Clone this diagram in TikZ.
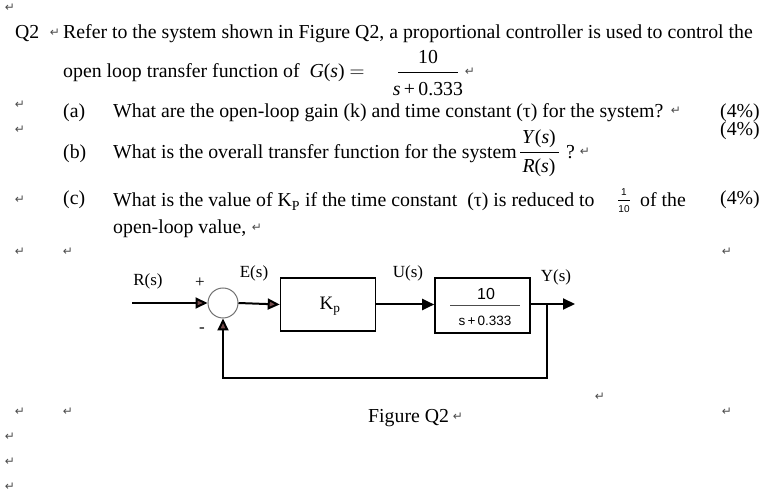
\documentclass[tikz,border=0pt]{standalone}
\usepackage{fontspec}
\setmainfont{Liberation Serif}
\newfontfamily\symf{DejaVu Sans}
\newfontfamily\sansf{Liberation Sans}
\usetikzlibrary{arrows.meta}
\begin{document}
\begin{tikzpicture}[x=1pt,y=-1pt,
  txt/.style={anchor=base west,inner sep=0pt,font=\fontsize{19.8}{23}\selectfont},
  ret/.style={inner sep=0pt,font=\symf\fontsize{12}{14}\selectfont,text=black!70},
  blk/.style={draw,line width=1.6pt,inner sep=0pt},
  sig/.style={line width=2pt,-{Triangle[length=12pt,width=11pt]}},
  lab/.style={inner sep=0pt,font=\fontsize{17}{19}\selectfont}]
\useasboundingbox (0,0) rectangle (772,494);
% text
\node[txt] (q2) at (15,39) {Q2};
\node[ret] (r0) at (55,33) {↵};
\node[ret] (r00) at (10,8) {↵};
\node[txt] (l1) at (63,39) {Refer to the system shown in Figure Q2, a proportional controller is used to control the};
\node[txt] (l2) at (63,78) {open loop transfer function of \ \textit{G}(\textit{s}) $=$};
\node[txt,anchor=base] (n1) at (428,64) {10};
\draw[line width=0.6pt] (398,72) -- (458,72);
\node[txt,anchor=base] (d1) at (428,96) {\textit{s}\,+\,0.333};
\node[ret] (r1) at (470,72) {↵};
\node[ret] (r2) at (20,105) {↵};
\node[ret] (r3) at (20,130) {↵};
\node[txt] (a) at (63,118) {(a)};
\node[txt] (at) at (113,118) {What are the open-loop gain (k) and time constant (τ) for the system?};
\node[ret] (r4) at (676,111) {↵};
\node[txt] (pa) at (720,118) {(4\%)};
\node[txt] (pb) at (720,136) {(4\%)};
\node[txt] (b) at (63,159) {(b)};
\node[txt] (bt) at (113,159) {What is the overall transfer function for the system};
\node[txt,anchor=base] (n2) at (539,144) {\textit{Y}(\textit{s})};
\draw[line width=0.6pt] (520,152) -- (559,152);
\node[txt,anchor=base] (d2) at (539,173) {\textit{R}(\textit{s})};
\node[txt] (q) at (566,159) {?};
\node[ret] (r5) at (585,152) {↵};
\node[ret] (r6) at (20,200) {↵};
\node[txt] (c) at (63,205) {(c)};
\node[txt] (ct) at (113,207) {What is the value of K\textsubscript{P} if the time constant \ (τ) is reduced to};
\node[inner sep=0pt,font=\sansf\fontsize{10}{11}\selectfont] (f1) at (624,192) {1};
\draw[line width=0.5pt] (618,200) -- (630,200);
\node[inner sep=0pt,font=\sansf\fontsize{10}{11}\selectfont] (f2) at (624,209) {10};
\node[txt] (ot) at (640,207) {of the};
\node[txt] (pc) at (720,205) {(4\%)};
\node[txt] (ov) at (113,234) {open-loop value,};
\node[ret] (r7) at (257,228) {↵};
\node[ret] (r8) at (20,252) {↵};
\node[ret] (r9) at (68,252) {↵};
\node[ret] (r10) at (727,252) {↵};
% diagram
\coordinate (in) at (132,303);
\node[draw=black!55,line width=1pt,circle,minimum size=30pt,inner sep=0pt] (sum) at (223,303) {};
\node[blk,minimum width=95pt,minimum height=53pt] (kp) at (328,304.5) {};
\node[lab,font=\fontsize{19}{21}\selectfont] at (330,306) {K\textsubscript{p}};
\node[blk,minimum width=95pt,minimum height=55pt] (g) at (482.5,305.5) {};
\node[inner sep=0pt,font=\sansf\fontsize{16}{18}\selectfont] (gn) at (486,294) {10};
\draw[line width=1pt,black!70] (450,306) -- (520,306);
\node[inner sep=0pt,font=\sansf\fontsize{13.5}{15}\selectfont] (gd) at (485,321) {s\,+\,0.333};
\coordinate (br) at (547,304);
\coordinate (out) at (575,304);
\coordinate (bl) at (547,378);
\coordinate (bb) at (223,378);
\draw[sig,-{Triangle[length=12pt,width=11pt,fill=black!60!red!40!gray]}] (in) -- (sum.west);
\draw[sig,-{Triangle[length=12pt,width=11pt,fill=black!60!red!40!gray]}] (sum.east) -- (kp.west);
\draw[sig] (kp.east) -- (g.west |- kp.east);
\draw[sig] (g.east |- br) -- (out);
\draw[line width=2pt,-{Triangle[length=12pt,width=11pt,fill=black!60!red!40!gray]}] (br) -- (bl) -- (bb) -- (sum.south);
\node[lab] (rs) at (148,281) {R(s)};
\node[lab] (pl) at (200,283) {+};
\node[lab] (mi) at (202,330) {-};
\node[lab] (es) at (254,273) {E(s)};
\node[lab] (us) at (408,273) {U(s)};
\node[lab] (ys) at (556,277) {Y(s)};
\node[ret] (r11) at (600,397) {↵};
\node[txt] (fig) at (368,423) {Figure Q2};
\node[ret] (r12) at (458,417) {↵};
\node[ret] (r13) at (20,412) {↵};
\node[ret] (r14) at (68,412) {↵};
\node[ret] (r15) at (727,412) {↵};
\node[ret] (r16) at (10,437) {↵};
\node[ret] (r17) at (10,462) {↵};
\node[ret] (r18) at (10,487) {↵};
\end{tikzpicture}
\end{document}
